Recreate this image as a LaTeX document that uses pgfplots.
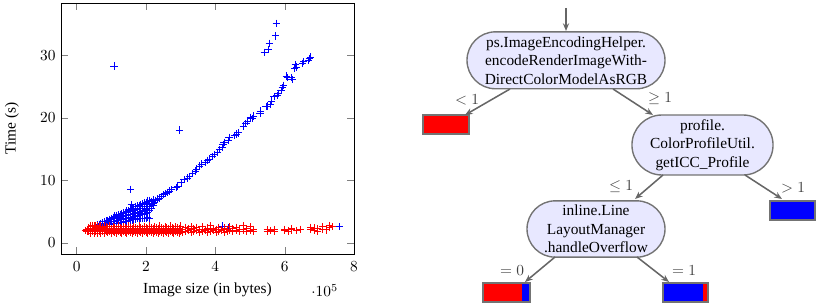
\documentclass[border=0pt]{standalone}
\usepackage{fontspec}
\setmainfont{Liberation Serif}
\usepackage{pgfplots}
\pgfplotsset{compat=1.18}
\usetikzlibrary{arrows.meta}
\begin{document}
\begin{tikzpicture}
\useasboundingbox (-39.65pt,-32.5pt) rectangle (492.05pt,165.1pt);
\begin{axis}[
  scale only axis, width=190.45pt, height=163.15pt,
  xmin=-45000, xmax=800000, ymin=-1.76, ymax=38.35,
  xtick={0,200000,400000,600000,800000},
  ytick={0,10,20,30},
  xlabel={Image size (in bytes)}, ylabel={Time (s)},
  ylabel shift=7pt, xlabel shift=0.5pt,
  xticklabel shift=1.3pt,
  every axis plot/.append style={only marks, mark=+, mark size=2.4pt, line width=0.5pt},
]
\addplot[blue] table {
x y
107600 28.3
297000 18.05
156000 8.58
576000 35.1
574000 33.1
556000 31.9
553000 30.9
541000 30.45
674000 29.7
671000 29.5
668000 29.2
655000 29.0
651000 28.7
631000 28.5
634000 28.1
629000 27.9
618000 26.4
621000 26.1
605000 26.7
609000 26.4
596000 25.2
593000 24.8
590000 24.4
583000 23.9
578000 23.6
569000 23.4
562000 22.7
558000 22.1
550000 21.9
546000 21.8
530000 21.1
529000 20.7
510000 20.3
506000 19.9
502000 20.1
493000 19.5
488000 19.1
481000 18.7
467000 17.6
462000 17.4
455000 17.2
440000 16.9
437000 16.4
425000 16.1
422000 15.7
419000 15.3
412000 14.9
407000 14.5
396000 14.1
392000 13.8
382000 13.4
378000 13.2
370000 12.9
360000 12.6
355000 12.3
346000 11.8
342000 11.5
335000 11.1
325000 10.6
320000 10.4
310000 10.1
302000 9.7
292000 9.1
287000 8.9
272000 8.5
268000 8.3
263000 8.1
257000 7.9
250000 7.7
244000 7.4
238000 7.2
232000 7.0
227000 6.8
224000 6.5
60000 2.6
60000 2.9
65000 2.7
65000 3.0
70000 2.7
70000 3.1
75000 2.8
75000 3.2
80000 2.8
80000 3.1
80000 3.4
85000 2.9
85000 3.2
85000 3.5
90000 2.9
90000 3.3
90000 3.6
95000 3.0
95000 3.4
95000 3.8
100000 3.0
100000 3.4
100000 3.9
105000 3.1
105000 3.5
105000 3.9
105000 4.1
110000 3.1
110000 3.5
110000 3.9
110000 4.3
115000 3.2
115000 3.6
115000 4.0
115000 4.4
120000 3.2
120000 3.6
120000 4.1
120000 4.5
125000 3.3
125000 3.7
125000 4.1
125000 4.6
130000 3.3
130000 3.8
130000 4.2
130000 4.7
135000 3.4
135000 3.8
135000 4.3
135000 4.8
140000 3.4
140000 3.9
140000 4.4
140000 4.9
145000 3.5
145000 3.9
145000 4.4
145000 4.9
145000 5.1
150000 3.6
150000 4.0
150000 4.5
150000 5.0
150000 5.2
155000 3.6
155000 4.1
155000 4.6
155000 5.1
155000 5.4
158000 6.1
160000 3.7
160000 4.1
160000 4.6
160000 5.1
160000 5.5
165000 3.8
165000 4.2
165000 4.7
165000 5.2
165000 5.6
170000 3.8
170000 4.3
170000 4.8
170000 5.3
170000 5.8
175000 3.9
175000 4.4
175000 4.9
175000 5.4
175000 5.9
180000 3.9
180000 4.4
180000 4.9
180000 5.5
180000 6.0
185000 3.9
185000 4.5
185000 5.0
185000 5.5
185000 6.1
190000 4.0
190000 4.6
190000 5.1
190000 5.6
190000 6.2
195000 4.0
195000 4.7
195000 5.2
195000 5.8
195000 6.4
200000 4.0
200000 4.7
200000 5.3
200000 5.9
200000 6.5
205000 4.1
205000 4.9
205000 5.5
205000 6.1
205000 6.7
210000 4.0
210000 5.2
210000 5.8
210000 6.3
210000 6.8
215000 5.6
215000 6.1
215000 6.6
220000 6.0
220000 6.4
220000 6.9
419000 2.7
439000 2.4
757000 2.6
};
\addplot[red] table {
x y
25000 2.0
30000 1.9
30000 2.2
35000 1.8
35000 2.1
35000 2.4
40000 1.6
40000 2.0
40000 2.3
40000 2.7
45000 1.8
45000 2.1
45000 2.4
45000 2.8
50000 1.6
50000 2.0
50000 2.3
50000 2.7
55000 1.8
55000 2.1
55000 2.5
55000 2.8
60000 1.6
60000 2.0
60000 2.3
60000 2.7
65000 1.8
65000 2.2
65000 2.6
70000 1.6
70000 2.0
70000 2.4
70000 2.7
75000 1.8
75000 2.1
75000 2.5
80000 1.6
80000 2.0
80000 2.3
80000 2.7
85000 1.9
85000 2.2
85000 2.6
90000 1.7
90000 2.0
90000 2.4
95000 1.8
95000 2.1
95000 2.7
100000 1.6
100000 2.0
100000 2.3
105000 1.9
105000 2.2
105000 2.6
110000 1.7
110000 2.1
110000 2.4
115000 1.6
115000 2.0
115000 2.3
120000 1.9
120000 2.2
120000 2.7
125000 1.7
125000 2.1
125000 2.4
130000 1.6
130000 2.0
130000 2.3
135000 1.9
135000 2.2
135000 2.6
140000 1.7
140000 2.1
140000 2.4
145000 1.6
145000 2.0
145000 2.3
150000 1.9
150000 2.2
150000 2.7
155000 1.7
155000 2.1
155000 2.4
160000 1.6
160000 2.0
160000 2.3
165000 1.9
165000 2.2
165000 2.6
170000 1.7
170000 2.1
170000 2.4
175000 1.6
175000 2.0
175000 2.3
180000 1.9
180000 2.2
180000 2.7
185000 1.7
185000 2.1
185000 2.4
190000 1.6
190000 2.0
190000 2.3
195000 1.9
195000 2.2
195000 2.6
200000 1.7
200000 2.1
200000 2.4
205000 1.6
205000 2.0
205000 2.3
210000 1.9
210000 2.2
210000 2.7
215000 1.7
215000 2.1
215000 2.4
220000 1.6
220000 2.0
220000 2.3
225000 1.9
225000 2.2
225000 2.6
230000 1.7
230000 2.1
230000 2.4
235000 1.6
235000 2.0
235000 2.3
240000 1.9
240000 2.2
240000 2.7
245000 1.7
245000 2.1
245000 2.4
250000 1.6
250000 2.0
250000 2.3
255000 1.9
255000 2.2
255000 2.6
260000 1.7
260000 2.1
260000 2.4
265000 1.6
265000 2.0
265000 2.3
270000 1.9
270000 2.2
270000 2.7
275000 1.7
275000 2.1
275000 2.4
280000 1.6
280000 2.0
280000 2.3
285000 1.9
285000 2.2
285000 2.6
290000 1.7
290000 2.1
290000 2.4
295000 1.6
295000 2.0
295000 2.3
300000 1.9
300000 2.2
300000 2.7
306000 1.7
306000 2.2
314000 1.9
314000 2.5
322000 2.0
322000 2.3
330000 1.7
330000 2.1
330000 2.6
338000 1.9
338000 2.3
346000 2.0
346000 2.5
354000 1.7
354000 2.2
362000 1.9
362000 2.6
370000 2.0
370000 2.2
378000 1.7
378000 2.4
386000 1.9
386000 2.2
386000 2.8
394000 2.0
394000 2.3
402000 1.7
402000 2.2
410000 1.9
410000 2.5
418000 2.0
418000 2.2
426000 1.7
426000 2.4
434000 1.9
434000 2.2
442000 2.0
442000 2.6
450000 1.8
450000 2.3
460000 2.0
460000 2.5
470000 1.8
470000 2.2
480000 2.1
480000 2.8
490000 1.8
490000 2.3
500000 2.0
500000 2.6
510000 1.9
510000 2.2
550000 1.9
550000 2.1
560000 2.0
570000 1.9
570000 2.2
600000 2.0
600000 2.2
610000 1.9
620000 2.1
620000 2.3
635000 2.0
645000 2.2
675000 2.2
675000 2.5
685000 2.0
685000 2.4
695000 2.3
695000 1.9
710000 2.6
710000 2.2
720000 2.1
730000 2.5
730000 2.8
738000 2.6
};
\end{axis}
\begin{scope}[x=0.65pt, y=-0.65pt, shift={(-61,-254)},
  tn/.style={draw=black!55, line width=0.9pt, fill=blue!9, align=center, inner sep=0pt},
  ed/.style={draw=black!60, line width=1pt, -{Stealth[length=5pt,width=4pt]}},
  lb/.style={text=black!75, inner sep=0pt}]
\node[tn, minimum width=128.7pt, minimum height=37pt, rounded corners=18.5pt] at (566,60.3)
  {ps.ImageEncodingHelper.\\encodeRenderImageWith-\\DirectColorModelAsRGB};
\node[tn, minimum width=91.7pt, minimum height=39pt, rounded corners=19.5pt] at (702.5,145)
  {profile.\\ColorProfileUtil.\\getICC\_Profile};
\node[tn, minimum width=89.7pt, minimum height=36.6pt, rounded corners=18.3pt] at (596,229)
  {inline.Line\\LayoutManager\\.handleOverflow};
% leaves
\fill[red] (423,115) rectangle (469,134);
\draw[black!55, line width=0.9pt] (423,115) rectangle (469,134);
\fill[blue] (770,201) rectangle (815,220);
\draw[black!55, line width=0.9pt] (770,201) rectangle (815,220);
\fill[red] (483,283) rectangle (522,302);
\fill[blue] (522,283) rectangle (530,302);
\draw[black!55, line width=0.9pt] (483,283) rectangle (530,302);
\fill[blue] (663,283) rectangle (703,302);
\fill[red] (703,283) rectangle (708,302);
\draw[black!55, line width=0.9pt] (663,283) rectangle (708,302);
% edges
\draw[ed] (566,8) -- (566,31);
\draw[ed] (510,89) -- (465,115);
\draw[ed] (613,89) -- (653,115);
\draw[ed] (663,175) -- (635,199);
\draw[ed] (745,175) -- (782,199);
\draw[ed] (555,257) -- (525,282);
\draw[ed] (637,257) -- (669,282);
% labels
\node[lb] at (467,100) {$<1$};
\node[lb] at (660,99) {$\geq 1$};
\node[lb] at (621,187) {$\leq 1$};
\node[lb] at (793,188) {$>1$};
\node[lb] at (512,271) {$=0$};
\node[lb] at (684,271) {$=1$};
\end{scope}
\end{tikzpicture}
\end{document}
